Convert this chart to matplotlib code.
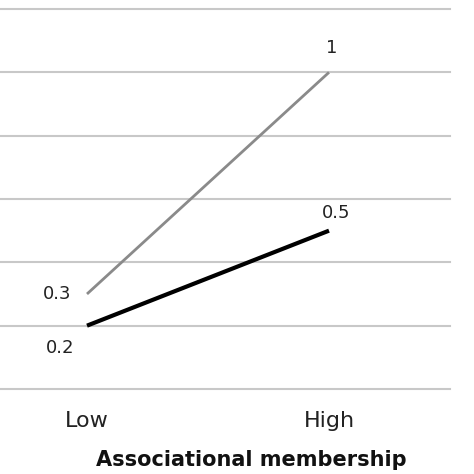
import matplotlib
matplotlib.use('Agg')
import matplotlib.pyplot as plt

# Data
categories = ['Low', 'High']
series_gray = [0.3, 1.0]
series_black = [0.2, 0.5]
gray_labels = ['0.3', '1']
black_labels = ['0.2', '0.5']
grid_levels = [0.0, 0.2, 0.4, 0.6, 0.8, 1.0, 1.2]

W = H = 474.0
fig = plt.figure(figsize=(4.74, 4.74), dpi=100)
# axes runs past the left edge (the picture is cropped there)
ax = fig.add_axes([-34 / W, (H - 389) / H, 484 / W, 380 / H])

xs = list(range(len(categories)))
ax.set_xlim(-0.5, len(categories) - 0.5)
ax.set_ylim(grid_levels[0], grid_levels[-1])

for g in grid_levels:
    ax.axhline(g, color='#c8c8c8', lw=1.5, zorder=0, clip_on=False)

ax.plot(xs, series_gray, color='#8a8a8a', lw=2, solid_capstyle='butt')
ax.plot(xs, series_black, color='black', lw=3, solid_capstyle='butt')

# data labels
ax.annotate(gray_labels[0], (xs[0], series_gray[0]), xytext=(-30, 0),
            textcoords='offset pixels', ha='center', va='center',
            fontsize=13, color='#222222')
ax.annotate(gray_labels[1], (xs[1], series_gray[1]), xytext=(3, 24),
            textcoords='offset pixels', ha='center', va='center',
            fontsize=13, color='#222222')
ax.annotate(black_labels[0], (xs[0], series_black[0]), xytext=(-27, -22),
            textcoords='offset pixels', ha='center', va='center',
            fontsize=13, color='#222222')
ax.annotate(black_labels[1], (xs[1], series_black[1]), xytext=(7, 18),
            textcoords='offset pixels', ha='center', va='center',
            fontsize=13, color='#222222')

ax.set_xticks(xs)
ax.set_xticklabels(categories, fontsize=16, color='#222222')
ax.tick_params(axis='x', length=0, pad=16)
ax.set_yticks([])
for s in ax.spines.values():
    s.set_visible(False)

fig.text(251 / W, (H - 460) / H, 'Associational membership',
         ha='center', va='center', fontsize=15, fontweight='bold',
         color='#111111')

fig.savefig('out.png', dpi=100)
